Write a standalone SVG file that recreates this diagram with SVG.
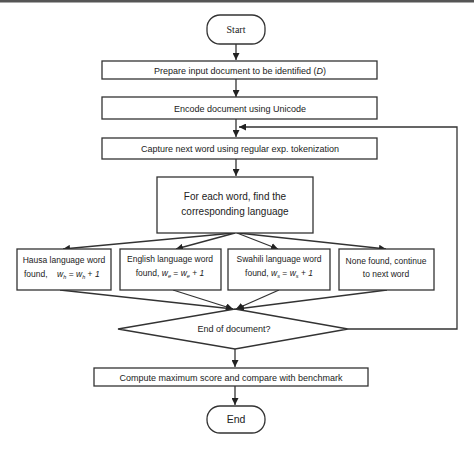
<svg xmlns="http://www.w3.org/2000/svg" width="474" height="449" viewBox="0 0 474 449">
<defs>
<marker id="ah" viewBox="0 0 10 10" refX="10" refY="5" markerWidth="7" markerHeight="7" markerUnits="userSpaceOnUse" orient="auto">
<path d="M0,0 L10,5 L0,10 z" fill="#222"/>
</marker>
<style>
.box{fill:#fff;stroke:#333;stroke-width:1.3}
.t{font-family:"Liberation Sans",Arial,sans-serif;font-size:9px;fill:#222;text-anchor:middle}
.s{font-family:"Liberation Sans",Arial,sans-serif;font-size:8.5px;fill:#222;text-anchor:middle}
.big{font-family:"Liberation Sans",Arial,sans-serif;font-size:10px;fill:#222;text-anchor:middle}
.a{fill:none;stroke:#333;stroke-width:1.3;marker-end:url(#ah)}
</style>
</defs>
<rect width="474" height="449" fill="#fff"/>
<rect x="0" y="0" width="474" height="2.5" fill="#555"/>
<g id="connectors">
<line class="a" x1="236" y1="44" x2="236" y2="60"/>
<line class="a" x1="236" y1="79" x2="236" y2="97"/>
<line class="a" x1="236" y1="119" x2="236" y2="137"/>
<polyline class="a" points="348,329 457,329 457,127 239,127"/>
<line class="a" x1="236" y1="159" x2="236" y2="176"/>
<line class="a" x1="234" y1="233" x2="63" y2="249"/>
<line class="a" x1="235" y1="233" x2="176" y2="249"/>
<line class="a" x1="237" y1="233" x2="278" y2="249"/>
<line class="a" x1="238" y1="233" x2="386" y2="249"/>
<line class="a" x1="60" y1="290" x2="233" y2="309"/>
<line class="a" x1="173" y1="290" x2="233" y2="309"/>
<line class="a" x1="279" y1="290" x2="236" y2="309"/>
<line class="a" x1="387" y1="290" x2="237" y2="309"/>
<line class="a" x1="235" y1="349" x2="235" y2="367"/>
<line class="a" x1="235" y1="386" x2="235" y2="405"/>
</g>
<g id="start">
<rect class="box" x="207" y="15" width="58" height="29" rx="13"/>
<text x="236" y="33" style="font-family:'Liberation Serif','Times New Roman',serif;font-size:10px;fill:#222;text-anchor:middle">Start</text>
</g>
<g id="prepare">
<rect class="box" x="102" y="61" width="275" height="18"/>
<text class="t" x="240" y="73.5">Prepare input document to be identified (<tspan font-style="italic">D</tspan>)</text>
</g>
<g id="encode">
<rect class="box" x="102" y="97" width="275" height="22"/>
<text class="t" x="240" y="111.5">Encode document using Unicode</text>
</g>
<g id="capture">
<rect class="box" x="102" y="138" width="275" height="21"/>
<text class="t" x="240" y="151.5">Capture next word using regular exp. tokenization</text>
</g>
<g id="foreach">
<rect class="box" x="157" y="177" width="156" height="56"/>
<text class="big" x="235" y="200">For each word, find the</text>
<text class="big" x="235" y="215">corresponding language</text>
</g>
<g id="hausa">
<rect class="box" x="17" y="249" width="94" height="41"/>
<text class="s" x="64" y="263">Hausa language word</text>
<text class="s" x="24" y="277" style="text-anchor:start">found,&#160;&#160;&#160; <tspan font-style="italic">w</tspan><tspan font-style="italic" font-size="5.5" dy="1.5">h</tspan><tspan dy="-1.5"> = </tspan><tspan font-style="italic">w</tspan><tspan font-style="italic" font-size="5.5" dy="1.5">h</tspan><tspan dy="-1.5"> + </tspan><tspan font-style="italic">1</tspan></text>
</g>
<g id="english">
<rect class="box" x="120" y="249" width="101" height="41"/>
<text class="s" x="170" y="262">English language word</text>
<text class="s" x="170" y="276">found, <tspan font-style="italic">w</tspan><tspan font-style="italic" font-size="5.5" dy="1.5">e</tspan><tspan dy="-1.5"> = </tspan><tspan font-style="italic">w</tspan><tspan font-style="italic" font-size="5.5" dy="1.5">e</tspan><tspan dy="-1.5"> + </tspan><tspan font-style="italic">1</tspan></text>
</g>
<g id="swahili">
<rect class="box" x="228" y="249" width="102" height="41"/>
<text class="s" x="279" y="262">Swahili language word</text>
<text class="s" x="279" y="276">found, <tspan font-style="italic">w</tspan><tspan font-style="italic" font-size="5.5" dy="1.5">s</tspan><tspan dy="-1.5"> = </tspan><tspan font-style="italic">w</tspan><tspan font-style="italic" font-size="5.5" dy="1.5">s</tspan><tspan dy="-1.5"> + </tspan><tspan font-style="italic">1</tspan></text>
</g>
<g id="none">
<rect class="box" x="339" y="249" width="95" height="41"/>
<text class="s" x="386" y="264">None found, continue</text>
<text class="s" x="386" y="277">to next word</text>
</g>
<g id="enddoc">
<polygon class="box" points="235,309 348,329 235,349 118,329"/>
<text class="t" x="234" y="332">End of document?</text>
</g>
<g id="compute">
<rect class="box" x="94" y="368" width="274" height="18"/>
<text class="t" x="231" y="380.5">Compute maximum score and compare with benchmark</text>
</g>
<g id="end">
<rect class="box" x="207" y="406" width="58" height="27" rx="13"/>
<text class="big" x="236" y="422.5" style="font-size:10.5px">End</text>
</g>
</svg>
